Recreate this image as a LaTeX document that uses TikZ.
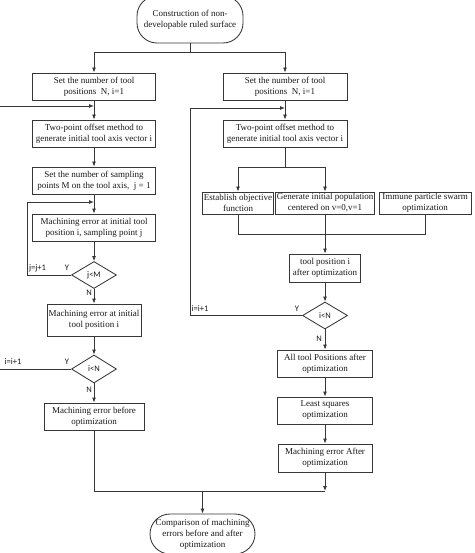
\documentclass[tikz,border=0pt]{standalone}
\usepackage{fontspec}
\setmainfont{Liberation Serif}
\newfontfamily\lblfont{Carlito}
\usetikzlibrary{arrows.meta,shapes.geometric}
\definecolor{linecol}{RGB}{55,55,55}
\definecolor{txtcol}{RGB}{25,25,25}
\tikzset{
  box/.style={draw=linecol, line width=0.85pt, align=center, inner sep=1pt,
    text=txtcol, font=\fontsize{9}{11}\selectfont},
  term/.style={box, rounded corners=20pt},
  dia/.style={draw=linecol, line width=0.85pt, diamond, aspect=1.7, inner sep=0pt,
    minimum width=45pt, minimum height=27pt, text=txtcol, font=\lblfont\fontsize{8.5}{10}\selectfont},
  conn/.style={draw=linecol, line width=0.85pt},
  arr/.style={conn, -{Latex[length=5pt,width=4pt]}},
  lbl/.style={text=txtcol, font=\lblfont\fontsize{8.5}{10}\selectfont, inner sep=0pt}
}
\begin{document}
\begin{tikzpicture}[x=1pt,y=-1pt]
\useasboundingbox (0,0) rectangle (474,553);
\clip (0,0) rectangle (474,553);
\fill[white] (0,0) rectangle (474,553);

% top terminal
\node[term, minimum width=106pt, minimum height=47pt] (top) at (190,19.5)
  {Construction of non-\\developable ruled surface};

% left column
\node[box, minimum width=123pt, minimum height=27pt] (L1) at (94,86.5)
  {Set the number of tool\\positions\ \ N, i=1};
\node[box, minimum width=123pt, minimum height=27pt] (L2) at (94,133.5)
  {Two-point offset method to\\generate initial tool axis vector i};
\node[box, minimum width=123pt, minimum height=27pt] (L3) at (94,180.5)
  {Set the number of sampling\\points M on the tool axis,\ \ j = 1};
\node[box, minimum width=123pt, minimum height=27pt] (L4) at (94,227.5)
  {Machining error at initial tool\\position i, sampling point j};
\node[dia] (D1) at (94,275) {j<M};
\node[box, minimum width=94pt, minimum height=32pt] (L5) at (94,320)
  {Machining error at initial\\tool position i};
\node[dia, minimum height=28pt] (D2) at (94,369) {i<N};
\node[box, minimum width=100pt, minimum height=27pt] (L6) at (94,416.5)
  {Machining error before\\optimization};

% right column
\node[box, minimum width=124pt, minimum height=27pt] (R1) at (285,86.5)
  {Set the number of tool\\positions\ \ N, i=1};
\node[box, minimum width=124pt, minimum height=27pt] (R2) at (285,133.5)
  {Two-point offset method to\\generate initial tool axis vector i};
\node[box, minimum width=70pt, minimum height=22pt] (A) at (238,203)
  {Establish objective\\function};
\node[box, minimum width=98pt, minimum height=22pt] (B) at (325,203)
  {Generate initial population\\centered on v=0,v=1};
\node[box, minimum width=92pt, minimum height=22pt] (C) at (425,203)
  {Immune particle swarm\\optimization};
\node[box, minimum width=71pt, minimum height=28pt] (T) at (325,268)
  {tool position i\\after optimization};
\node[dia] (D3) at (325,315.5) {i<N};
\node[box, minimum width=95pt, minimum height=27pt] (P) at (325,363.5)
  {All tool Positions after\\optimization};
\node[box, minimum width=95pt, minimum height=27pt] (Q) at (325,410.5)
  {Least squares\\optimization};
\node[box, minimum width=94pt, minimum height=28pt] (M) at (325,458)
  {Machining error After\\optimization};

% bottom terminal
\node[term, minimum width=105pt, minimum height=40pt] (bot) at (202.5,534)
  {Comparison of machining\\errors before and after\\optimization};

% coordinates
\coordinate (fork) at (190,52);
\coordinate (lin) at (94,106);
\coordinate (lo1) at (-2,369);
\coordinate (lo2) at (-2,106);
\coordinate (jin) at (94,202);
\coordinate (jl1) at (27,275);
\coordinate (jl2) at (27,202);
\coordinate (rin) at (285,108);
\coordinate (rl1) at (190,315.5);
\coordinate (rl2) at (190,108);
\coordinate (rfork) at (285,167);
\coordinate (ja) at (238,234);
\coordinate (jc) at (425,234);
\coordinate (mL) at (94,491);
\coordinate (mR) at (325,491);
\coordinate (mC) at (202.5,491);

% connectors
\draw[conn] (top.south) -- (fork);
\draw[arr] (fork) -| (L1.north);
\draw[arr] (fork) -| (R1.north);

\draw[arr] (L1) -- (L2);
\draw[arr] (D2.west) -- (lo1) -- (lo2) -- (lin);
\draw[arr] (L2) -- (L3);
\draw[arr] (L3) -- (L4);
\draw[arr] (D1.west) -- (jl1) -- (jl2) -- (jin);
\draw[arr] (L4) -- (D1);
\draw[arr] (D1) -- (L5);
\draw[arr] (L5) -- (D2);
\draw[arr] (D2) -- (L6);
\draw[conn] (L6.south) -- (mL) -- (mR);
\draw[arr] (mC) -- (bot.north);

\draw[arr] (R1) -- (R2);
\draw[arr] (D3.west) -- (rl1) -- (rl2) -- (rin);
\draw[conn] (R2.south) -- (rfork);
\draw[arr] (rfork) -| (A.north);
\draw[arr] (rfork) -| (B.north);
\draw[conn] (A.south) -- (ja) -- (jc) -- (C.south);
\draw[arr] (B) -- (T);
\draw[arr] (T) -- (D3);
\draw[arr] (D3) -- (P);
\draw[arr] (P) -- (Q);
\draw[arr] (Q) -- (M);
\draw[arr] (M) -- (mR);

% labels
\node[lbl] (y1) at (67,268) {Y};
\node[lbl] (j1) at (37.5,268) {j=j+1};
\node[lbl] (n1) at (89,293) {N};
\node[lbl] (y2) at (67,362) {Y};
\node[lbl] (i1) at (13,362) {i=i+1};
\node[lbl] (n2) at (89,390) {N};
\node[lbl] (y3) at (297,309) {Y};
\node[lbl] (i2) at (200,309) {i=i+1};
\node[lbl] (n3) at (319,339) {N};
\end{tikzpicture}
\end{document}
